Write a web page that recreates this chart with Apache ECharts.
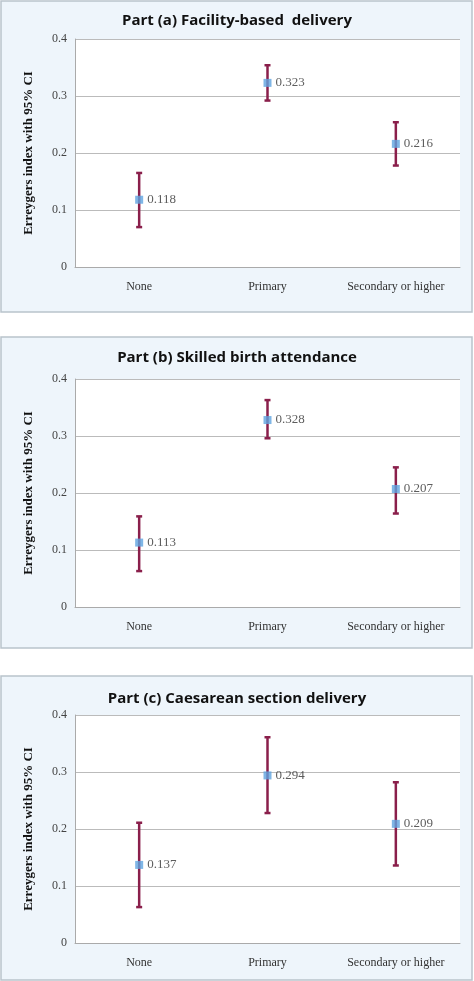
<!DOCTYPE html>
<html><head><meta charset="utf-8">
<script src="https://cdn.jsdelivr.net/npm/echarts@6/dist/echarts.min.js"></script>
<style>html,body{margin:0;padding:0;background:#fff}#c{width:474px;height:981px}</style>
</head><body><div id="c"></div>
<script>
const categories = ['None', 'Primary', 'Secondary or higher'];
const titles = ['Part (a) Facility-based  delivery', 'Part (b) Skilled birth attendance', 'Part (c) Caesarean section delivery'];
const yTicks = [0, 0.1, 0.2, 0.3, 0.4];
const estA = [0.118, 0.323, 0.216], lowA = [0.070, 0.292, 0.178], highA = [0.165, 0.354, 0.254];
const estB = [0.113, 0.328, 0.207], lowB = [0.063, 0.296, 0.164], highB = [0.159, 0.363, 0.245];
const estC = [0.137, 0.294, 0.209], lowC = [0.063, 0.228, 0.136], highC = [0.211, 0.361, 0.282];

const panels = [[estA, lowA, highA], [estB, lowB, highB], [estC, lowC, highC]];
const gridTops = [39, 379, 715];
const boxes = [[1, 1, 471, 311], [1, 337, 471, 311], [1, 676, 471, 304]];
const titleTops = [8, 345, 686];
const chart = echarts.init(document.getElementById('c'));
const grids = [], xAxes = [], yAxes = [], series = [], graphic = [], title = [];
panels.forEach((p, i) => {
  const b = boxes[i];
  graphic.push({type: 'rect', z: -10, shape: {x: b[0], y: b[1], width: b[2], height: b[3]},
    style: {fill: '#eef5fb', stroke: '#b9c3cc', lineWidth: 1.5}});
  graphic.push({type: 'rect', z: -9, shape: {x: 75, y: gridTops[i], width: 385, height: 228}, style: {fill: '#fff'}});
  title.push({text: titles[i], left: 'center', top: titleTops[i],
    textStyle: {fontFamily: 'Open Sans', fontWeight: 'bold', fontSize: 15, color: '#111'}});
  grids.push({left: 75, width: 385, top: gridTops[i], height: 228});
  xAxes.push({type: 'category', gridIndex: i, data: categories,
    axisLine: {lineStyle: {color: '#aaa'}}, axisTick: {show: false},
    axisLabel: {fontFamily: 'Liberation Serif', fontSize: 12, color: '#333', margin: 14}});
  yAxes.push({type: 'value', gridIndex: i, min: 0, max: 0.4, interval: 0.1,
    name: 'Erreygers index with 95% CI', nameLocation: 'middle', nameGap: 40, nameRotate: 90,
    nameTextStyle: {fontFamily: 'Liberation Serif', fontWeight: 'bold', fontSize: 13, color: '#111'},
    axisLine: {show: true, lineStyle: {color: '#aaa'}},
    axisLabel: {fontFamily: 'Liberation Serif', fontSize: 12, color: '#444', formatter: v => yTicks.includes(+v.toFixed(1)) ? String(+v.toFixed(1)) : ''},
    splitLine: {lineStyle: {color: '#bbb'}}});
  series.push({type: 'custom', xAxisIndex: i, yAxisIndex: i,
    data: categories.map((c, k) => [k, p[1][k], p[2][k]]),
    renderItem: (params, api) => {
      const lo = api.coord([api.value(0), api.value(1)]);
      const hi = api.coord([api.value(0), api.value(2)]);
      const st = {stroke: '#8a1f4b', lineWidth: 2.5};
      return {type: 'group', children: [
        {type: 'line', shape: {x1: lo[0], y1: lo[1], x2: hi[0], y2: hi[1]}, style: st},
        {type: 'line', shape: {x1: lo[0] - 3, y1: lo[1], x2: lo[0] + 3, y2: lo[1]}, style: st},
        {type: 'line', shape: {x1: hi[0] - 3, y1: hi[1], x2: hi[0] + 3, y2: hi[1]}, style: st}]};
    }});
  series.push({type: 'scatter', xAxisIndex: i, yAxisIndex: i, data: p[0], symbol: 'rect', symbolSize: 8,
    itemStyle: {color: '#5fa4e0'}, z: 5,
    label: {show: true, position: 'right', distance: 4, formatter: d => d.value.toFixed(3),
      fontFamily: 'Liberation Serif', fontSize: 13, color: '#333'}});
});
chart.setOption({animation: false, title, grid: grids, xAxis: xAxes, yAxis: yAxes, series, graphic});
</script></body></html>
